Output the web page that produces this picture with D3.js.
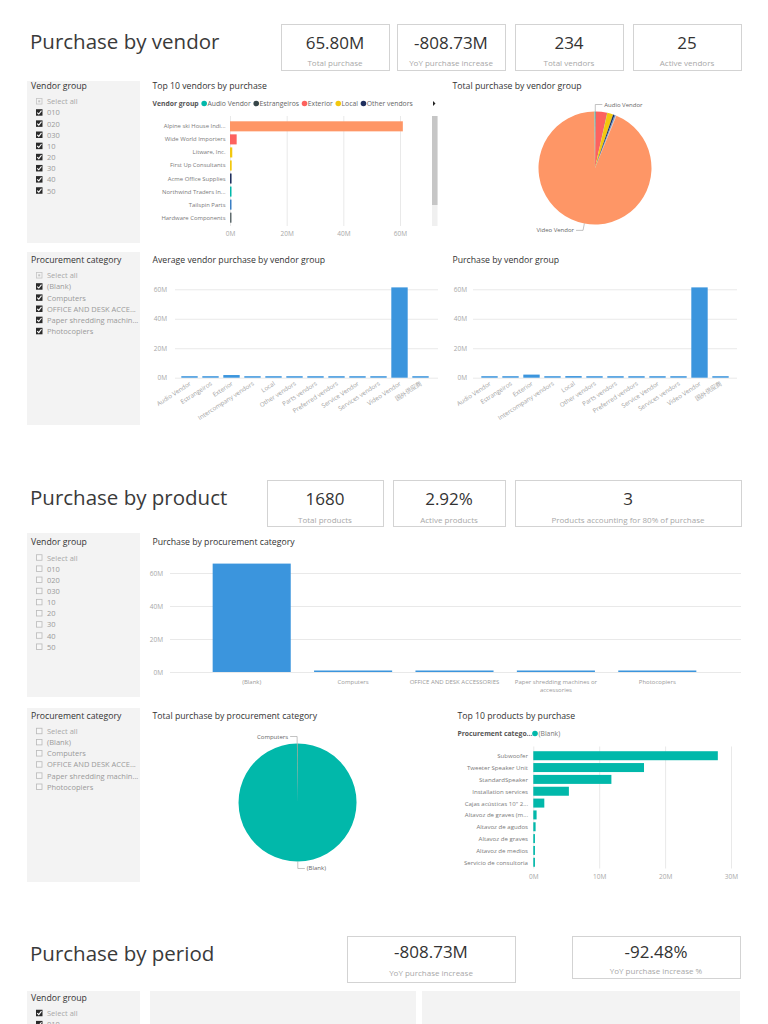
<!DOCTYPE html>
<html><head><meta charset="utf-8">
<script src="https://cdn.jsdelivr.net/npm/d3@7"></script>
<style>
html,body{margin:0;padding:0;background:#fff;}
svg{display:block;font-family:"Open Sans","Segoe UI",sans-serif;}
</style></head><body>
<svg id="c" width="768" height="1024"></svg>
<script>
// ---------------- DATA ----------------
const vendorKpiValues = ["65.80M", "-808.73M", "234", "25"];
const vendorKpiLabels = ["Total purchase", "YoY purchase increase", "Total vendors", "Active vendors"];
const productKpiValues = ["1680", "2.92%", "3"];
const productKpiLabels = ["Total products", "Active products", "Products accounting for 80% of purchase"];
const periodKpiValues = ["-808.73M", "-92.48%"];
const periodKpiLabels = ["YoY purchase increase", "YoY purchase increase %"];

const vendorGroupItems = ["Select all", "010", "020", "030", "10", "20", "30", "40", "50"];
const procCategoryItems = ["Select all", "(Blank)", "Computers", "OFFICE AND DESK ACCE...", "Paper shredding machin...", "Photocopiers"];

const topVendorNames = ["Alpine ski House Indi...", "Wide World Importers", "Litware, Inc.", "First Up Consultants",
  "Acme Office Supplies", "Northwind Traders In...", "Tailspin Parts", "Hardware Components"];
const topVendorValues = [61.0, 2.35, 0.8, 0.6, 0.55, 0.5, 0.5, 0.45]; // M
const topVendorGroups = ["Video Vendor", "Exterior", "Local", "Local", "Other vendors", "Audio Vendor", "Parts vendors", "Intercompany vendors"];
const vendorLegendItems = ["Audio Vendor", "Estrangeiros", "Exterior", "Local", "Other vendors"];

const vendorGroups = ["Audio Vendor", "Estrangeiros", "Exterior", "Intercompany vendors", "Local", "Other vendors",
  "Parts vendors", "Preferred vendors", "Service Vendor", "Services vendors", "Video Vendor", "国外供应商"];
const avgPurchaseByGroup = [0.05, 0.05, 1.8, 0.05, 0.1, 0.1, 0.05, 0.05, 0.05, 0.05, 61.3, 0.05];
const totalPurchaseByGroup = [0.1, 0.05, 2.1, 0.05, 1.1, 0.3, 0.15, 0.05, 0.05, 0.1, 61.3, 0.1];
const groupColors = ["#01B8AA", "#374649", "#FD625E", "#5F6B6D", "#F2C80F", "#1F2F5E",
  "#3A7FC4", "#A66999", "#3599B8", "#DFBFBF", "#FE9666", "#4AC5BB"];
const pieLabelGroups = ["Audio Vendor", "Video Vendor"];

const procCategories = ["(Blank)", "Computers", "OFFICE AND DESK ACCESSORIES", "Paper shredding machines or accessories", "Photocopiers"];
const procPurchase = [65.7, 0.08, 0.01, 0.005, 0.005];
const procColors = ["#01B8AA", "#6b7375", "#FD625E", "#F2C80F", "#5F6B6D"];
const procPieLabels = ["(Blank)", "Computers"];

const topProductNames = ["Subwoofer", "Tweeter Speaker Unit", "StandardSpeaker", "Installation services",
  "Cajas acústicas 10\" 2...", "Altavoz de graves (m...", "Altavoz de agudos", "Altavoz de graves",
  "Altavoz de medios", "Servicio de consultoria"];
const topProductValues = [28.0, 16.8, 11.85, 5.4, 1.67, 0.5, 0.35, 0.25, 0.25, 0.25];

const mTicks = [0, 20, 40, 60];
const productTicks = [0, 10, 20, 30];

// ---------------- HELPERS ----------------
const svg = d3.select("#c");
const colorOf = d3.scaleOrdinal().domain(vendorGroups).range(groupColors);

function txt(g, x, y, s, o = {}) {
  return g.append("text").attr("x", x).attr("y", y).text(s)
    .attr("font-size", o.size || 9).attr("fill", o.fill || "#333")
    .attr("text-anchor", o.anchor || "start")
    .attr("dominant-baseline", o.baseline || "central")
    .attr("font-weight", o.weight || 400);
}

function header(y, s) { txt(svg, 30, y, s, { size: 20.5, fill: "#3a3a3a", weight: 400 }); }

function kpi(x, y, w, h, val, lab, vy, ly) {
  svg.append("rect").attr("x", x + .5).attr("y", y + .5).attr("width", w).attr("height", h)
    .attr("fill", "#fff").attr("stroke", "#d3d3d3");
  txt(svg, x + w / 2, y + vy, val, { size: 17, anchor: "middle", fill: "#333" });
  txt(svg, x + w / 2, y + ly, lab, { size: 8, anchor: "middle", fill: "#a8a8a8" });
}

function checkbox(g, x, cy, state) {
  const s = 6.5;
  if (state === "checked") {
    g.append("rect").attr("x", x).attr("y", cy - s / 2).attr("width", s).attr("height", s).attr("fill", "#2a2a2a");
    g.append("path").attr("d", `M${x + 1.2},${cy + 0.1} L${x + 2.8},${cy + 1.6} L${x + 5.5},${cy - 1.9}`)
      .attr("stroke", "#fff").attr("stroke-width", 1.1).attr("fill", "none");
  } else if (state === "partial") {
    g.append("rect").attr("x", x + .5).attr("y", cy - s / 2 + .5).attr("width", s - 1).attr("height", s - 1)
      .attr("fill", "none").attr("stroke", "#c4c4c4").attr("stroke-width", 0.8);
    g.append("rect").attr("x", x + 2.2).attr("y", cy - 1).attr("width", 2).attr("height", 2).attr("fill", "#c4c4c4");
  } else {
    g.append("rect").attr("x", x + .5).attr("y", cy - s / 2 + .5).attr("width", s - 1).attr("height", s - 1)
      .attr("fill", "#f7f7f7").attr("stroke", "#b9b9b9").attr("stroke-width", 0.8);
  }
}

function slicer(x, y, w, h, title, items, states, titleY, firstY) {
  const g = svg.append("g");
  g.append("rect").attr("x", x).attr("y", y).attr("width", w).attr("height", h).attr("fill", "#f3f3f3");
  txt(g, x + 4, titleY, title, { size: 8.7, fill: "#333" });
  items.forEach((it, i) => {
    const cy = firstY + i * 11.15;
    checkbox(g, x + 9, cy, states(i));
    txt(g, x + 20, cy, it, { size: 7.5, fill: i === 0 ? "#a8a8a8" : "#9a9a9a" });
  });
}

function styleAxis(ga, size) {
  ga.select(".domain").remove();
  ga.selectAll(".tick line").attr("stroke", "#e9e9e9").attr("stroke-width", 1);
  ga.selectAll(".tick text").attr("fill", "#a8a8a8").attr("font-size", size)
    .attr("font-family", "'Open Sans',sans-serif");
}

function hbar(o) {
  const g = svg.append("g");
  const x = d3.scaleLinear().domain(o.xDomain).range(o.xRange);
  const y = d3.scaleBand().domain(o.names).range(o.yRange).paddingInner(o.pi).paddingOuter(o.po);
  const ax = d3.axisBottom(x).tickValues(o.ticks).tickFormat(d => d + "M")
    .tickSize(-(o.gridY[1] - o.gridY[0])).tickPadding(5.5);
  const ga = g.append("g").attr("transform", `translate(0,${o.gridY[1]})`).call(ax);
  styleAxis(ga, 6.5);
  g.selectAll("rect.bar").data(o.values).join("rect").attr("class", "bar")
    .attr("x", x(0)).attr("y", (d, i) => y(o.names[i]))
    .attr("width", d => Math.max(1.5, x(d) - x(0))).attr("height", y.bandwidth())
    .attr("fill", (d, i) => o.color(i));
  o.names.forEach(n => txt(g, o.labelX, y(n) + y.bandwidth() / 2, n, { size: o.labelSize, anchor: "end", fill: "#7a7a7a" }));
  return g;
}

function vbar(o) {
  const g = svg.append("g");
  const x = d3.scaleBand().domain(o.cats).range(o.bandRange).paddingInner(o.pi).paddingOuter(o.po);
  const y = d3.scaleLinear().domain([0, 60]).range(o.yRange);
  const ax = d3.axisLeft(y).tickValues(mTicks).tickFormat(d => d + "M")
    .tickSize(-(o.gridX[1] - o.gridX[0])).tickPadding(o.pad);
  const ga = g.append("g").attr("transform", `translate(${o.gridX[0]},0)`).call(ax);
  styleAxis(ga, 6.5);
  const base = y(0);
  g.selectAll("rect.bar").data(o.vals).join("rect").attr("class", "bar")
    .attr("x", (d, i) => x(o.cats[i])).attr("width", x.bandwidth())
    .attr("y", d => Math.min(y(d), base - 1.5)).attr("height", d => Math.max(base - y(d), 1.5))
    .attr("fill", "#3B95DD");
  if (o.rotate) {
    o.cats.forEach(c => {
      const ax0 = x(c) + x.bandwidth() / 2 + 2, ay0 = base + 7;
      txt(g, ax0, ay0, c, { size: 6.2, anchor: "end", fill: "#a3a3a3", baseline: "alphabetic" })
        .attr("transform", `rotate(-33,${ax0},${ay0})`);
    });
  } else {
    o.cats.forEach(c => {
      const t = txt(g, x(c) + x.bandwidth() / 2, base + 10, "", { size: 6, anchor: "middle", fill: "#9a9a9a" });
      const words = c.split(" ");
      let line = [], lines = [];
      words.forEach(w => {
        line.push(w); t.text(line.join(" "));
        if (t.node().getComputedTextLength() > x.step() - 4 && line.length > 1) {
          line.pop(); lines.push(line.join(" ")); line = [w];
        }
      });
      lines.push(line.join(" "));
      t.text(null);
      lines.forEach((l, k) => t.append("tspan").attr("x", x(c) + x.bandwidth() / 2).attr("dy", k === 0 ? 0 : 8).text(l));
    });
  }
  return g;
}

function pie(o) {
  const g = svg.append("g").attr("transform", `translate(${o.cx},${o.cy})`);
  const arcs = d3.pie().sort(null).value(d => d)(o.values);
  const arc = d3.arc().innerRadius(0).outerRadius(o.r);
  g.selectAll("path").data(arcs).join("path").attr("d", arc).attr("fill", (d, i) => o.colors[i]);
  arcs.forEach((a, i) => {
    if (!o.labelNames.includes(o.names[i])) return;
    const m = (a.startAngle + a.endAngle) / 2;
    const p1 = [o.r * Math.sin(m), -o.r * Math.cos(m)];
    const p2 = [(o.r + 7) * Math.sin(m), -(o.r + 7) * Math.cos(m)];
    const side = Math.sin(m) >= 0 ? 1 : -1;
    const p3 = [p2[0] + side * 7, p2[1]];
    g.append("polyline").attr("points", [p1, p2, p3].map(p => p.join(",")).join(" "))
      .attr("fill", "none").attr("stroke", "#9a9a9a").attr("stroke-width", 0.6);
    txt(g, p3[0] + side * 2, p3[1], o.names[i], { size: 6, anchor: side > 0 ? "start" : "end", fill: "#666" });
  });
}

// ---------------- SECTION 1: vendor ----------------
header(41, "Purchase by vendor");
[281, 397, 515, 633].forEach((x, i) => kpi(x, 24, 108, 46, vendorKpiValues[i], vendorKpiLabels[i], 18, 38));

slicer(27, 81, 113, 162, "Vendor group", vendorGroupItems, i => i === 0 ? "partial" : "checked", 86, 101.3);
slicer(27, 252, 113, 173, "Procurement category", procCategoryItems, i => i === 0 ? "partial" : "checked", 260, 275.3);

// Top 10 vendors
txt(svg, 152.5, 85.5, "Top 10 vendors by purchase", { size: 8.7, fill: "#333" });
(function legend() {
  const ly = 103.5;
  const t0 = txt(svg, 152.5, ly, "Vendor group", { size: 6.8, fill: "#555", weight: 700 });
  let cx = 152.5 + t0.node().getComputedTextLength() + 5.5;
  vendorLegendItems.forEach(n => {
    svg.append("circle").attr("cx", cx).attr("cy", ly).attr("r", 2.8).attr("fill", colorOf(n));
    const t = txt(svg, cx + 3.3, ly, n, { size: 6.8, fill: "#666" });
    cx = cx + 3.3 + t.node().getComputedTextLength() + 5.5;
  });
  svg.append("path").attr("d", `M433,${ly - 2.5} L435.5,${ly} L433,${ly + 2.5} Z`).attr("fill", "#222");
})();
hbar({
  names: topVendorNames, values: topVendorValues, xDomain: [0, 60], xRange: [230, 400],
  yRange: [120, 224], pi: 0.23, po: 0.1, ticks: mTicks, gridY: [116, 226],
  labelX: 225.5, labelSize: 5.9, color: i => colorOf(topVendorGroups[i])
});
svg.append("rect").attr("x", 432).attr("y", 116).attr("width", 5.5).attr("height", 110).attr("fill", "#f0f0f0");
svg.append("rect").attr("x", 432).attr("y", 116).attr("width", 5.5).attr("height", 89).attr("fill", "#c6c6c6");

// Pie by vendor group
txt(svg, 452.5, 85.5, "Total purchase by vendor group", { size: 8.7, fill: "#333" });
pie({ cx: 595, cy: 168, r: 56.5, values: totalPurchaseByGroup, names: vendorGroups,
  colors: vendorGroups.map(n => colorOf(n)), labelNames: pieLabelGroups });

// Average vendor purchase
txt(svg, 152.5, 259.5, "Average vendor purchase by vendor group", { size: 8.7, fill: "#333" });
vbar({ cats: vendorGroups, vals: avgPurchaseByGroup, bandRange: [179, 431], pi: 0.22, po: 0.11,
  yRange: [377.7, 289.3], gridX: [175, 438], pad: 8, rotate: true });

// Purchase by vendor group
txt(svg, 452.5, 259.5, "Purchase by vendor group", { size: 8.7, fill: "#333" });
vbar({ cats: vendorGroups, vals: totalPurchaseByGroup, bandRange: [479, 731], pi: 0.22, po: 0.11,
  yRange: [377.7, 289.3], gridX: [473, 737], pad: 6, rotate: true });

// ---------------- SECTION 2: product ----------------
header(497, "Purchase by product");
[[267, 116], [393, 112], [515, 226]].forEach((b, i) => kpi(b[0], 480, b[1], 46, productKpiValues[i], productKpiLabels[i], 18, 39));

slicer(27, 533, 113, 164, "Vendor group", vendorGroupItems, i => "unchecked", 541.5, 557.5);
slicer(27, 708, 113, 174, "Procurement category", procCategoryItems, i => "unchecked", 715.5, 731);

txt(svg, 152.5, 541.5, "Purchase by procurement category", { size: 8.7, fill: "#333" });
vbar({ cats: procCategories, vals: procPurchase, bandRange: [201, 708], pi: 0.23, po: 0.115,
  yRange: [672, 573], gridX: [170, 741], pad: 7, rotate: false });

txt(svg, 152.5, 715.5, "Total purchase by procurement category", { size: 8.7, fill: "#333" });
pie({ cx: 297.5, cy: 802.5, r: 59, values: procPurchase, names: procCategories,
  colors: procColors, labelNames: procPieLabels });

txt(svg, 457.5, 715.5, "Top 10 products by purchase", { size: 8.7, fill: "#333" });
(function () {
  const ly = 733.5;
  txt(svg, 457.5, ly, "Procurement catego...", { size: 6.8, fill: "#555", weight: 700 });
  svg.append("circle").attr("cx", 535).attr("cy", ly).attr("r", 2.8).attr("fill", procColors[0]);
  txt(svg, 538.5, ly, procCategories[0], { size: 6.8, fill: "#777" });
})();
hbar({
  names: topProductNames, values: topProductValues, xDomain: [0, 30], xRange: [533.3, 731],
  yRange: [749.8, 868.2], pi: 0.24, po: 0.12, ticks: productTicks, gridY: [746.5, 868.5],
  labelX: 528, labelSize: 6.1, color: i => procColors[0]
});

// ---------------- SECTION 3: period ----------------
header(953, "Purchase by period");
kpi(347, 936, 168, 46, periodKpiValues[0], periodKpiLabels[0], 15, 36);
kpi(572, 936, 168, 42, periodKpiValues[1], periodKpiLabels[1], 15, 34);
slicer(27, 991, 113, 40, "Vendor group", vendorGroupItems.slice(0, 2), i => "checked", 997.5, 1013);
svg.append("rect").attr("x", 150).attr("y", 991).attr("width", 266).attr("height", 40).attr("fill", "#f3f3f3");
svg.append("rect").attr("x", 422).attr("y", 991).attr("width", 318).attr("height", 40).attr("fill", "#f3f3f3");
</script>
</body></html>
